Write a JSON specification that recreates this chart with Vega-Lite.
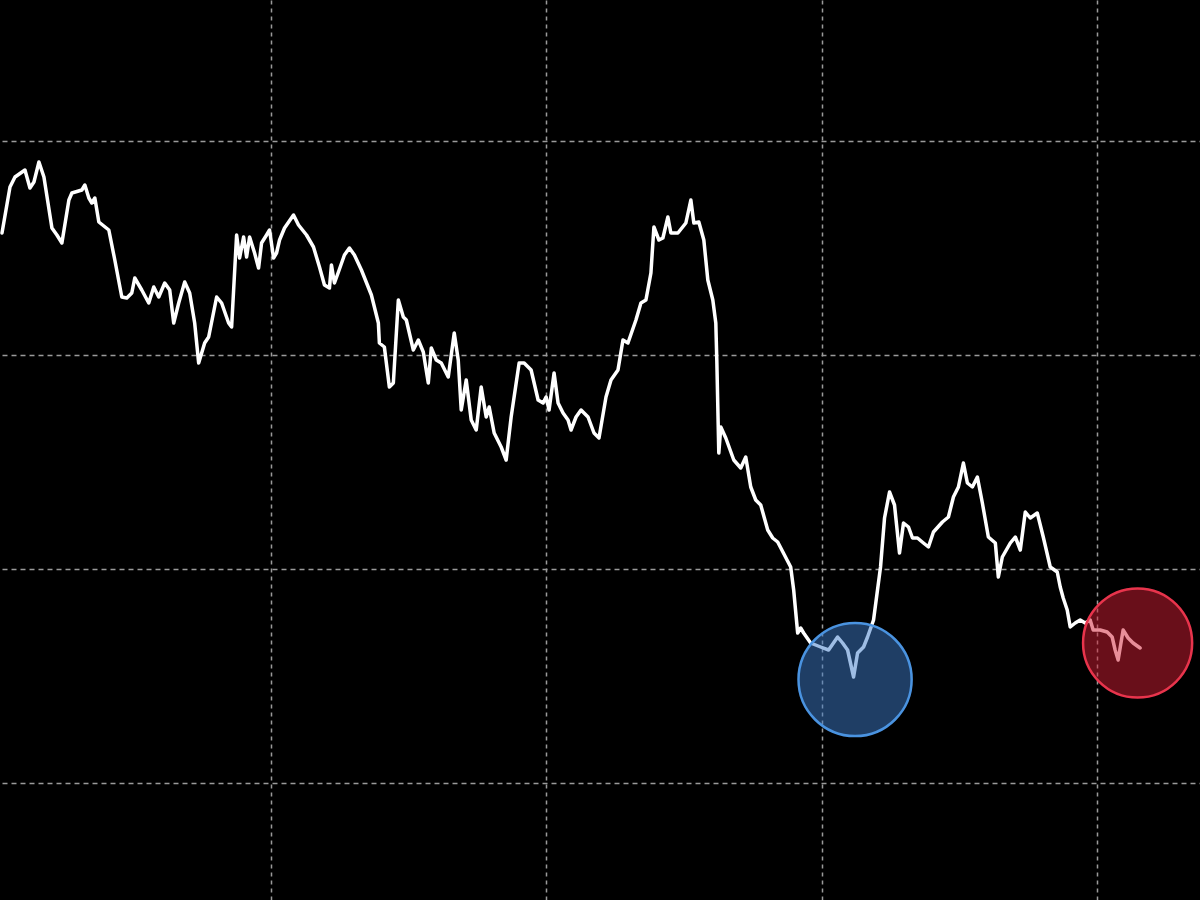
{
  "$schema": "https://vega.github.io/schema/vega-lite/v6.json",
  "width": 1200,
  "height": 900,
  "autosize": {"type": "fit", "contains": "padding"},
  "padding": 0,
  "background": "#000000",
  "config": {"view": {"stroke": null}},
  "datasets": {
    "series": [
      {"t":0,"v":66.7},{"t":1.6,"v":71.3},{"t":2.6,"v":72.3},{"t":4.6,"v":73},{"t":5.6,"v":71.2},{"t":6.4,"v":71.8},{"t":7.4,"v":73.8},{"t":8.4,"v":72.3},{"t":10,"v":67.2},{"t":11,"v":66.5},{"t":12,"v":65.7},{"t":13.4,"v":70},{"t":14,"v":70.7},{"t":16,"v":71},{"t":16.6,"v":71.5},{"t":17.4,"v":70.2},{"t":18,"v":69.7},{"t":18.6,"v":70.2},{"t":19.4,"v":67.8},{"t":21.4,"v":67},{"t":22.6,"v":64},{"t":24,"v":60.3},{"t":25,"v":60.2},{"t":26,"v":60.7},{"t":26.6,"v":62.2},{"t":28,"v":61},{"t":29.4,"v":59.7},{"t":30.4,"v":61.3},{"t":31.4,"v":60.3},{"t":32.6,"v":61.7},{"t":33.6,"v":61},{"t":34.4,"v":57.7},{"t":35.4,"v":59.7},{"t":36.6,"v":61.8},{"t":37.6,"v":60.7},{"t":38.6,"v":57.7},{"t":39.4,"v":53.7},{"t":40.6,"v":55.7},{"t":41.4,"v":56.3},{"t":43,"v":60.3},{"t":44,"v":59.7},{"t":45.4,"v":57.7},{"t":46,"v":57.3},{"t":47,"v":66.5},{"t":47.6,"v":64.2},{"t":48.4,"v":66.3},{"t":49,"v":64.3},{"t":49.6,"v":66.3},{"t":50.6,"v":64.7},{"t":51.4,"v":63.2},{"t":52,"v":65.7},{"t":53,"v":66.5},{"t":53.6,"v":67},{"t":54.4,"v":64.2},{"t":55,"v":64.7},{"t":55.6,"v":66},{"t":56.6,"v":67.2},{"t":58.4,"v":68.5},{"t":59.4,"v":67.5},{"t":61,"v":66.5},{"t":62.4,"v":65.3},{"t":63.6,"v":63.3},{"t":64.6,"v":61.5},{"t":65.6,"v":61.2},{"t":66,"v":63.5},{"t":66.6,"v":61.7},{"t":67.4,"v":62.8},{"t":68.6,"v":64.5},{"t":69.6,"v":65.2},{"t":70.6,"v":64.5},{"t":72,"v":63},{"t":74,"v":60.5},{"t":75.4,"v":57.7},{"t":75.6,"v":55.7},{"t":76.6,"v":55.3},{"t":77.6,"v":51.3},{"t":78.4,"v":51.7},{"t":79.4,"v":60},{"t":80.4,"v":58.3},{"t":81,"v":58},{"t":82.4,"v":55},{"t":83.4,"v":56},{"t":84.4,"v":54.8},{"t":85.4,"v":51.7},{"t":86,"v":55.2},{"t":87,"v":54},{"t":88,"v":53.7},{"t":89.4,"v":52.3},{"t":90.6,"v":56.7},{"t":91.4,"v":54},{"t":92,"v":49},{"t":93,"v":52},{"t":94,"v":48},{"t":95,"v":47},{"t":96,"v":51.3},{"t":97,"v":48.3},{"t":97.6,"v":49.3},{"t":98.6,"v":46.7},{"t":100,"v":45.3},{"t":101,"v":44},{"t":102,"v":48.3},{"t":103.6,"v":53.7},{"t":104.6,"v":53.7},{"t":106,"v":53},{"t":107.4,"v":50},{"t":108.4,"v":49.7},{"t":109,"v":50.3},{"t":109.6,"v":49},{"t":110.6,"v":52.7},{"t":111.4,"v":49.7},{"t":112.4,"v":48.7},{"t":113.4,"v":48},{"t":114,"v":47},{"t":115,"v":48.3},{"t":116,"v":49},{"t":117.4,"v":48.3},{"t":118.6,"v":46.7},{"t":119.6,"v":46.2},{"t":121,"v":50.3},{"t":122,"v":52},{"t":123.4,"v":53},{"t":124.4,"v":56},{"t":125.4,"v":55.7},{"t":127,"v":58},{"t":128,"v":59.7},{"t":129,"v":60},{"t":130,"v":62.7},{"t":130.6,"v":67.3},{"t":131.6,"v":66},{"t":132.4,"v":66.2},{"t":133.4,"v":68.3},{"t":134,"v":66.7},{"t":135.4,"v":66.7},{"t":137,"v":67.7},{"t":138,"v":70},{"t":138.6,"v":67.7},{"t":139.6,"v":67.8},{"t":140.6,"v":66},{"t":141.4,"v":62},{"t":142.4,"v":60},{"t":143,"v":57.7},{"t":143.2,"v":54},{"t":143.6,"v":44.7},{"t":144,"v":47.3},{"t":145,"v":46.2},{"t":146.6,"v":44},{"t":148,"v":43.2},{"t":149,"v":44.3},{"t":150,"v":41.3},{"t":151,"v":40},{"t":152,"v":39.5},{"t":153.4,"v":37},{"t":154.4,"v":36.2},{"t":155.4,"v":35.8},{"t":158,"v":33.3},{"t":158.6,"v":31},{"t":159.4,"v":26.7},{"t":160,"v":27.2},{"t":160.6,"v":26.7},{"t":162,"v":25.7},{"t":164,"v":25.3},{"t":165.6,"v":25},{"t":167.4,"v":26.3},{"t":168.4,"v":25.7},{"t":169.4,"v":25},{"t":170.6,"v":22.3},{"t":171.4,"v":24.7},{"t":172.6,"v":25.3},{"t":173.4,"v":26.3},{"t":174.6,"v":28},{"t":176,"v":33.3},{"t":176.8,"v":38.2},{"t":177.8,"v":40.8},{"t":178.8,"v":39.5},{"t":179.8,"v":34.7},{"t":180.6,"v":37.7},{"t":181.6,"v":37.3},{"t":182.4,"v":36.2},{"t":183.4,"v":36.2},{"t":184.6,"v":35.7},{"t":185.6,"v":35.3},{"t":186.6,"v":36.8},{"t":188.4,"v":37.8},{"t":189.6,"v":38.3},{"t":190.6,"v":40.3},{"t":191.6,"v":41.3},{"t":192.6,"v":43.7},{"t":193.4,"v":41.7},{"t":194.4,"v":41.3},{"t":195.4,"v":42.3},{"t":196.4,"v":39.7},{"t":197.6,"v":36.3},{"t":199,"v":35.7},{"t":199.6,"v":32.3},{"t":200.4,"v":34.3},{"t":202,"v":35.7},{"t":203,"v":36.3},{"t":204,"v":35},{"t":205,"v":38.8},{"t":206,"v":38.2},{"t":207.4,"v":38.7},{"t":208.6,"v":36.3},{"t":210,"v":33.3},{"t":211.4,"v":32.8},{"t":212,"v":31.3},{"t":212.6,"v":30.2},{"t":213.4,"v":29},{"t":214,"v":27.3},{"t":215,"v":27.7},{"t":216,"v":28},{"t":217,"v":27.7},{"t":218,"v":28},{"t":218.6,"v":27},{"t":220,"v":27},{"t":221.4,"v":26.8},{"t":222.4,"v":26.3},{"t":223,"v":25},{"t":223.6,"v":24},{"t":224.6,"v":27},{"t":225.6,"v":26.2},{"t":226.6,"v":25.7},{"t":228,"v":25.2}
    ],
    "marks": [
      {"t": 170.9, "v": 22.05, "kind": "low"},
      {"t": 227.5, "v": 25.7, "kind": "latest"}
    ]
  },
  "layer": [
    {
      "data": {"name": "series"},
      "mark": {"type": "line", "color": "#ffffff", "strokeWidth": 3.5, "strokeJoin": "round", "strokeCap": "round"},
      "encoding": {
        "x": {
          "field": "t", "type": "quantitative",
          "scale": {"domain": [0, 240], "nice": false, "zero": false},
          "axis": {"title": null, "labels": false, "ticks": false, "domain": false, "grid": true, "values": [53.8, 109, 164.2, 219.4], "gridColor": "#9a9a9a", "gridDash": [4, 4], "gridWidth": 1.5}
        },
        "y": {
          "field": "v", "type": "quantitative",
          "scale": {"domain": [0, 90], "nice": false, "zero": false},
          "axis": {"title": null, "labels": false, "ticks": false, "domain": false, "grid": true, "values": [75.9, 54.5, 33.1, 11.7], "gridColor": "#9a9a9a", "gridDash": [5, 4], "gridWidth": 1.5}
        }
      }
    },
    {
      "data": {"name": "marks"},
      "mark": {"type": "point", "shape": "circle", "filled": true, "strokeWidth": 2.5, "fillOpacity": 0.5, "strokeOpacity": 1},
      "encoding": {
        "x": {"field": "t", "type": "quantitative"},
        "y": {"field": "v", "type": "quantitative"},
        "size": {"field": "kind", "type": "nominal", "scale": {"domain": ["low", "latest"], "range": [12800, 11900]}, "legend": null},
        "fill": {"field": "kind", "type": "nominal", "scale": {"domain": ["low", "latest"], "range": ["#3d7cc9", "#d21e34"]}, "legend": null},
        "stroke": {"field": "kind", "type": "nominal", "scale": {"domain": ["low", "latest"], "range": ["#4a93e0", "#e8344c"]}, "legend": null}
      }
    }
  ]
}
